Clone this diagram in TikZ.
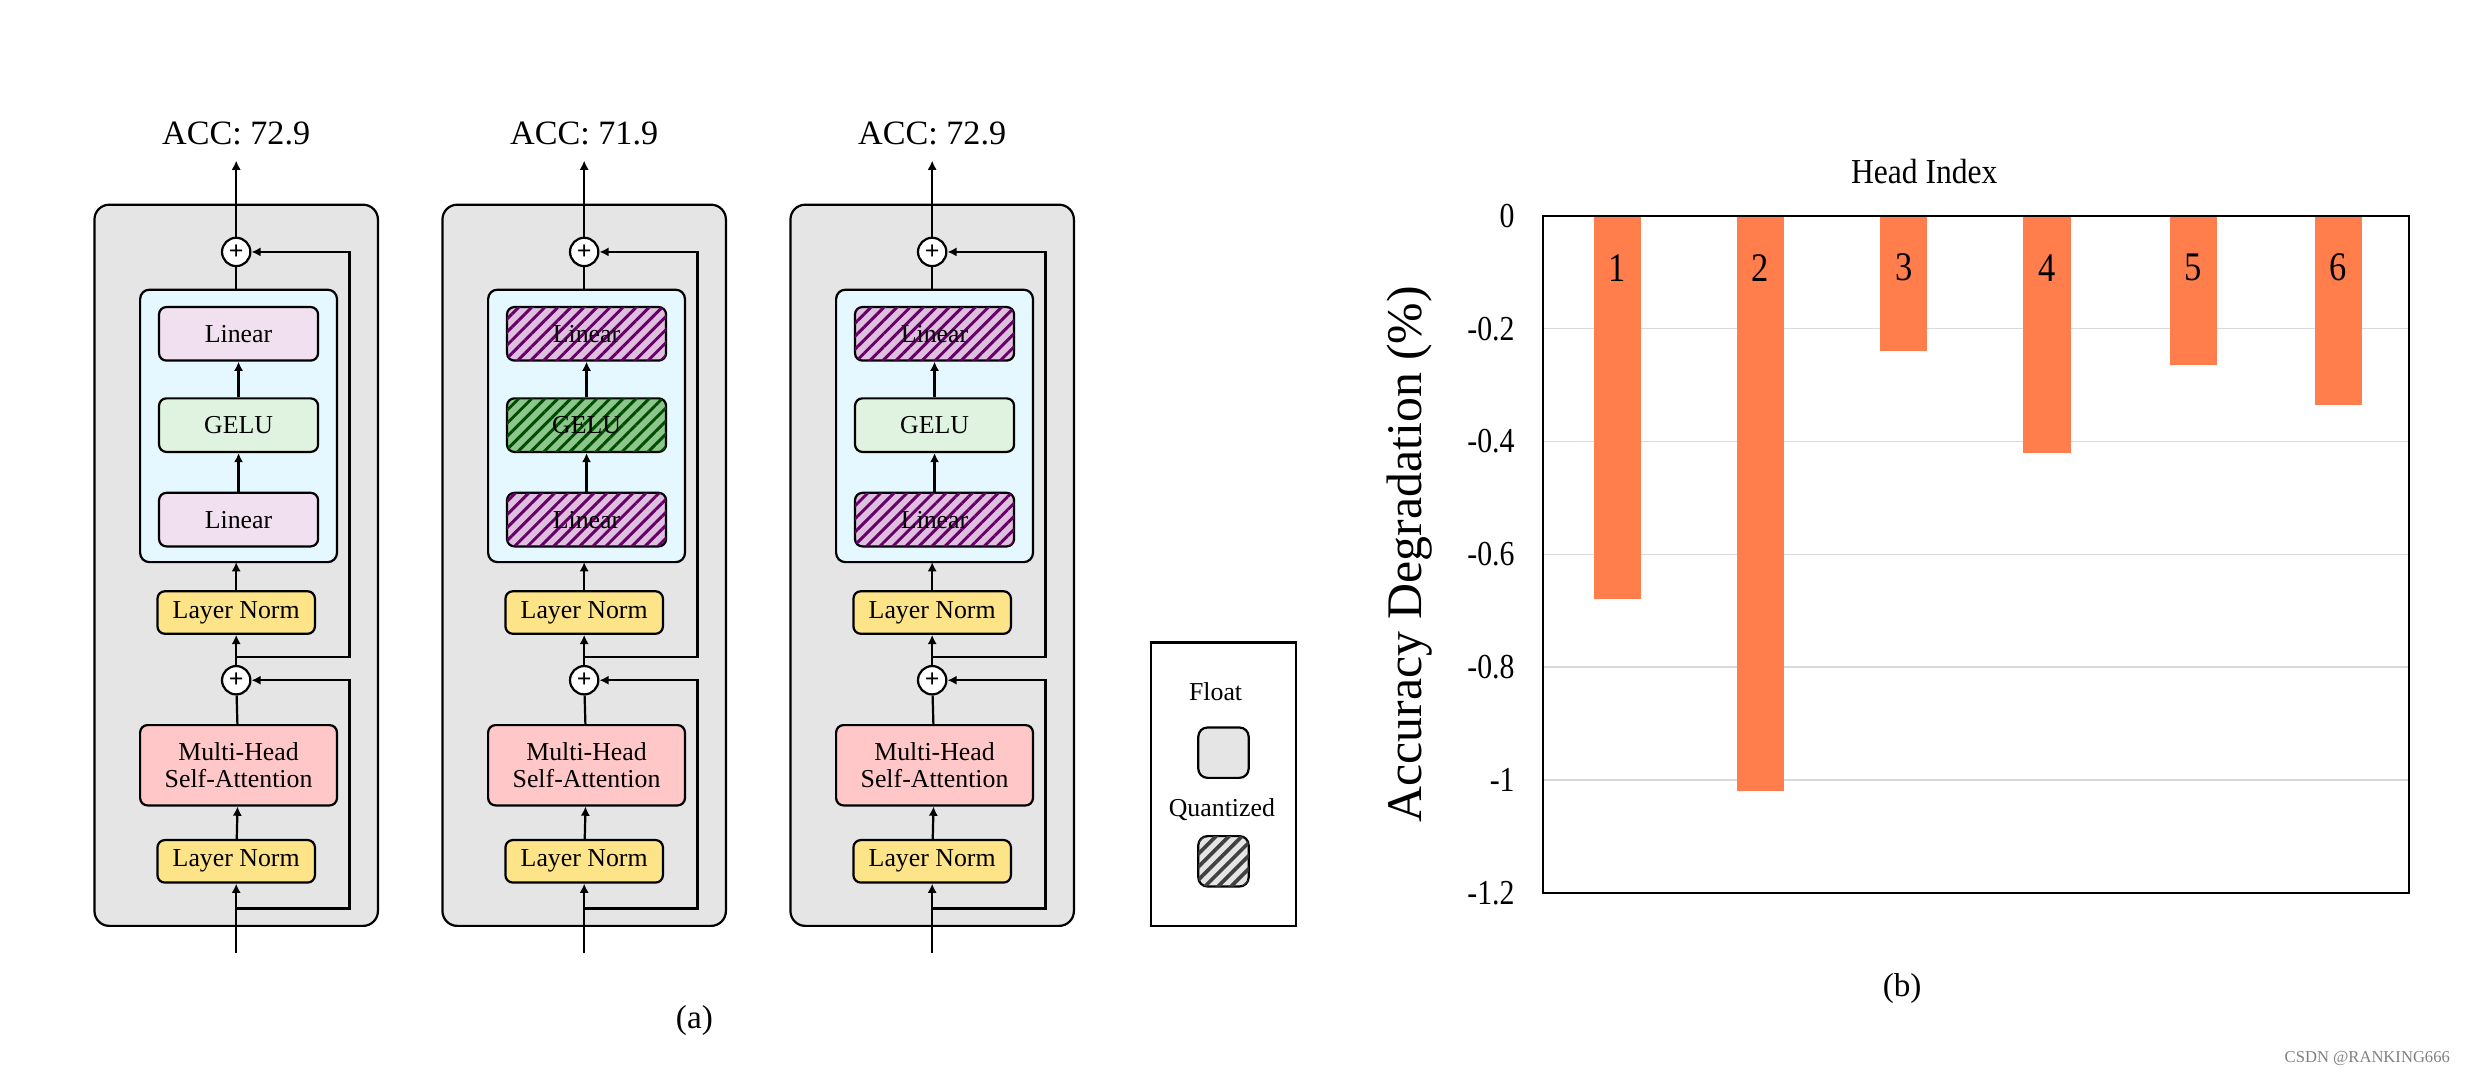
\documentclass[tikz,border=0pt]{standalone}
\usepackage{fontspec}
\setmainfont{Liberation Serif}
\usetikzlibrary{patterns.meta,arrows.meta}
\begin{document}
\begin{tikzpicture}[x=0.03cm,y=-0.03cm,
  blk/.style={draw,line width=1.2pt,rounded corners=4pt,font=\fontsize{14}{16}\selectfont,inner sep=0pt,align=center},
  lin/.style={blk,fill=violet!12,minimum width=3.03cm,minimum height=1.02cm},
  gelu/.style={blk,fill=green!60!black!12,minimum width=3.03cm,minimum height=1.02cm},
  qlin/.style={lin,fill=violet!25,postaction={pattern={Lines[angle=45,distance=5pt,line width=1.6pt]},pattern color=violet!80!black}},
  qgelu/.style={gelu,fill=green!50!black!45,postaction={pattern={Lines[angle=45,distance=5pt,line width=1.6pt]},pattern color=green!30!black}},
  ln/.style={blk,fill=yellow!60!orange!45,minimum width=3.0cm,minimum height=0.81cm},
  mhsa/.style={blk,fill=red!22,minimum width=3.75cm,minimum height=1.53cm,font=\fontsize{14}{15}\selectfont},
  plus/.style={draw,circle,line width=1.2pt,fill=white,minimum size=0.54cm,inner sep=0pt,font=\bfseries\fontsize{14}{14}\selectfont},
  con/.style={line width=1.2pt,-{Latex[length=5pt,width=5pt]}},
  ln0/.style={line width=1.2pt},
  tick/.style={font=\fontsize{19}{19}\selectfont,anchor=east},
  bar/.style={fill=red!45!orange!70!white,draw=none}]
\useasboundingbox (0,0) rectangle (1568,682);
\newcommand\mypanel[5]{%
 \begin{scope}[xshift=#2*0.03cm]
  \draw[line width=1.2pt,fill=black!10,rounded corners=8pt] (60,130) rectangle (240,588);
  \draw[line width=1.2pt,fill=blue!30!cyan!10!white,rounded corners=5pt] (89,184) rectangle (214,357);
  \node[font=\fontsize{18.5}{20}\selectfont] (#1acc) at (150,85) {ACC: #5};
  \node[plus] (#1p1) at (150,160) {+};
  \node[#3] (#1l2) at (151.5,212) {Linear};
  \node[#4] (#1g) at (151.5,270) {GELU};
  \node[#3] (#1l1) at (151.5,330) {Linear};
  \node[ln] (#1n2) at (150,389) {Layer Norm};
  \node[plus] (#1p2) at (150,432) {+};
  \node[mhsa] (#1m) at (151.5,486) {Multi-Head\\Self-Attention};
  \node[ln] (#1n1) at (150,547) {Layer Norm};
  \coordinate (#1in) at (150,605);
  \coordinate (#1r1) at (150,577);
  \coordinate (#1r2) at (150,417);
  \coordinate (#1top) at (150,102);
  \draw[con] (#1in) -- (#1n1);
  \draw[con] (#1n1) -- (#1m);
  \draw[ln0] (#1m) -- (#1p2);
  \draw[con] (#1p2) -- (#1n2);
  \draw[con] (#1n2) -- (#1n2|-0,357);
  \draw[con] (#1l1) -- (#1g);
  \draw[con] (#1g) -- (#1l2);
  \draw[ln0] (150,184) -- (#1p1);
  \draw[con] (#1p1) -- (#1top);
  \draw[con] (#1r1) -| (222,432) -- (#1p2);
  \draw[con] (#1r2) -| (222,160) -- (#1p1);
 \end{scope}}
\mypanel{a}{0}{lin}{gelu}{72.9}
\mypanel{b}{221}{qlin}{qgelu}{71.9}
\mypanel{c}{442}{qlin}{gelu}{72.9}
% legend
\draw[line width=1.2pt] (731,408) rectangle (823,588);
\node[font=\fontsize{14}{14}\selectfont] (flt) at (772,439) {Float};
\node[draw,line width=1.2pt,rounded corners=5pt,fill=black!10,minimum size=0.96cm] (fbox) at (777,478) {};
\node[font=\fontsize{14}{14}\selectfont] (qnt) at (776,514) {Quantized};
\node[draw,line width=1.2pt,rounded corners=5pt,fill=black!10,minimum size=0.96cm,postaction={pattern={Lines[angle=45,distance=5pt,line width=2pt]},pattern color=black!75}] (qbox) at (777,547) {};
\node[font=\fontsize{18}{18}\selectfont] (lba) at (441,648) {(a)};
% chart
\foreach \v/\y in {0.2/208.7,0.4/280.3,0.6/352,0.8/423.7,1/495.3}
  \draw[black!15,line width=0.8pt] (980,\y) -- (1530,\y);
\foreach \t/\y in {0/137,-0.2/208.7,-0.4/280.3,-0.6/352,-0.8/423.7,-1/495.3,-1.2/567}
  \node[tick] at (966,\y) {\scalebox{0.85}[1]{\t}};
\foreach \c/\v/\n in {1027/0.68/1,1118/1.02/2,1209/0.24/3,1300/0.42/4,1393/0.265/5,1485/0.335/6}{
  \fill[bar] (\c-15,137) rectangle (\c+15,137+\v*358.3);
  \node[font=\fontsize{22}{22}\selectfont] at (\c,170) {\scalebox{0.85}[1]{\n}};
}
\draw[line width=0.9pt] (980,137) rectangle (1530,567);
\node[font=\fontsize{19}{19}\selectfont] (ht) at (1222,109) {\scalebox{0.9}[1]{Head Index}};
\node[font=\fontsize{27}{27}\selectfont,rotate=90] (yl) at (895,352) {Accuracy Degradation (\%)};
\node[font=\fontsize{18}{18}\selectfont] (lbb) at (1208,628) {(b)};
\node[font=\fontsize{9}{9}\selectfont,text=black!50,anchor=east] (wm) at (1560,672) {CSDN @RANKING666};
\end{tikzpicture}
\end{document}
